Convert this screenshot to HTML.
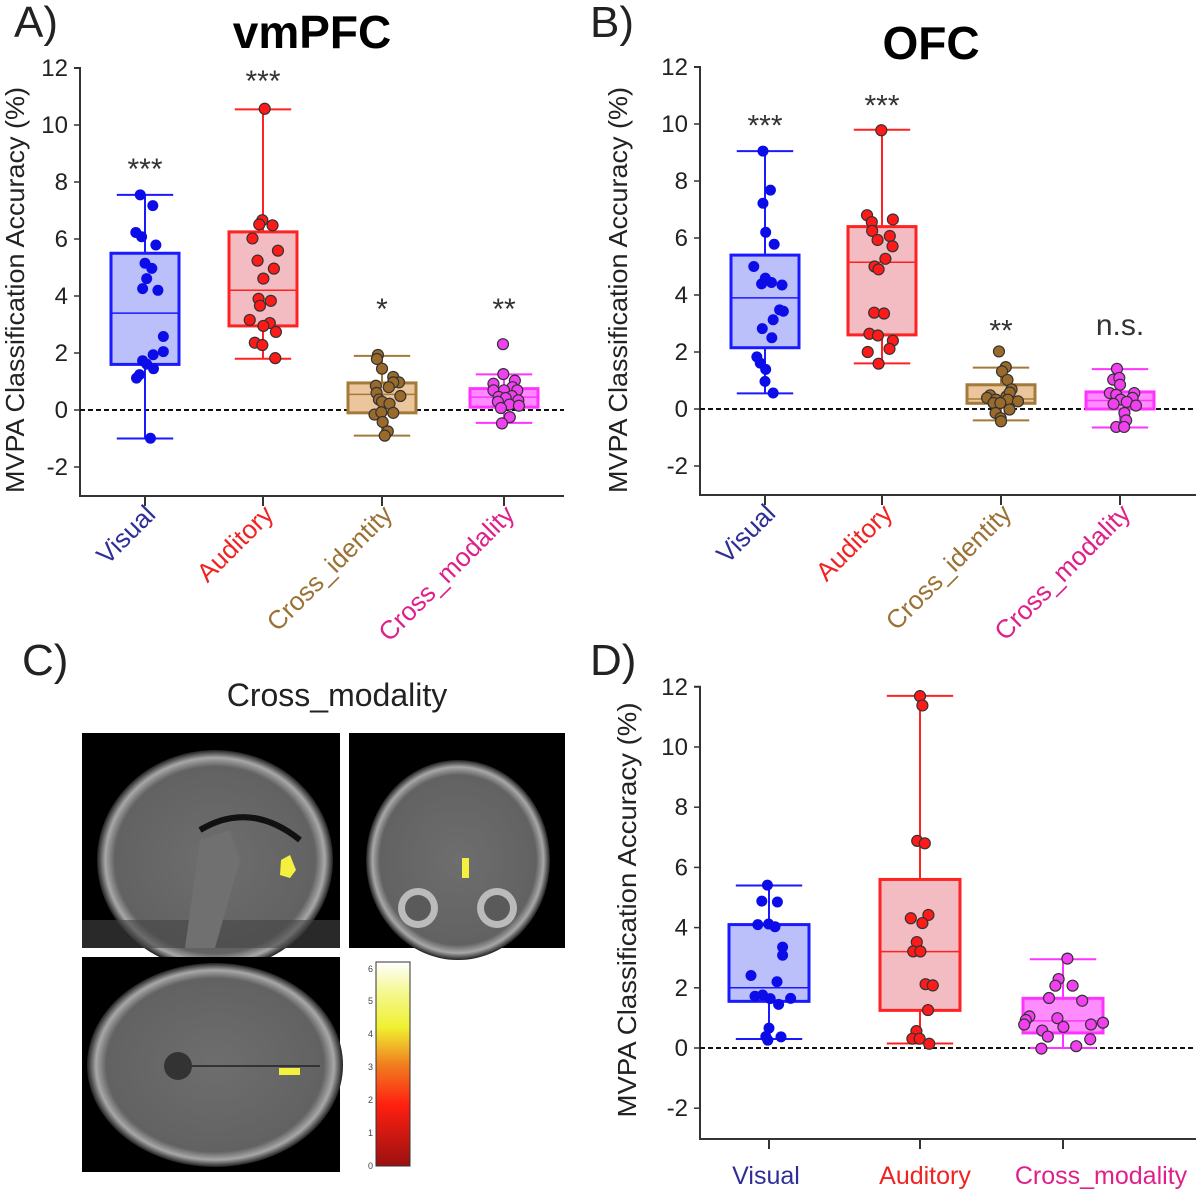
<!DOCTYPE html>
<html><head><meta charset="utf-8"><style>
html,body{margin:0;padding:0;background:#fff;}
svg{display:block;font-family:"Liberation Sans",Arial,sans-serif;}
</style></head><body>
<svg id="fig" width="1200" height="1190" viewBox="0 0 1200 1190" xmlns="http://www.w3.org/2000/svg">
<defs>
<linearGradient id="cbar" x1="0" y1="1" x2="0" y2="0">
<stop offset="0" stop-color="#9a1010"/><stop offset="0.3" stop-color="#ff2010"/><stop offset="0.5" stop-color="#f08020"/><stop offset="0.68" stop-color="#f0f030"/><stop offset="0.85" stop-color="#f4f890"/><stop offset="1" stop-color="#ffffff"/>
</linearGradient>
<radialGradient id="brainG" cx="0.5" cy="0.5" r="0.5"><stop offset="0" stop-color="#6e6e6e"/><stop offset="0.85" stop-color="#626262"/><stop offset="0.93" stop-color="#a8a8a8"/><stop offset="1" stop-color="#202020"/></radialGradient>
</defs>
<text x="14" y="37" font-size="44" fill="#222">A)</text>
<text x="312" y="48" font-size="46" font-weight="bold" text-anchor="middle" fill="#000">vmPFC</text>
<text x="590" y="37" font-size="44" fill="#222">B)</text>
<text x="931" y="59" font-size="46" font-weight="bold" text-anchor="middle" fill="#000">OFC</text>
<text x="22" y="675" font-size="44" fill="#222">C)</text>
<text x="337" y="706" font-size="32" text-anchor="middle" fill="#222">Cross_modality</text>
<text x="590" y="675" font-size="44" fill="#222">D)</text>

<g>
<rect x="82" y="733" width="258" height="215" fill="#000"/>
<ellipse cx="215" cy="860" rx="118" ry="110" fill="url(#brainG)"/>
<rect x="82" y="920" width="258" height="28" fill="#444" opacity="0.6"/>
<path d="M185 948 L200 840 L230 830 L240 860 L215 948 Z" fill="#707070"/>
<path d="M200 830 Q250 800 300 840" stroke="#111" stroke-width="6" fill="none"/>
<path d="M281 860 L290 855 L296 870 L290 878 L280 875 Z" fill="#f4f040"/>
<rect x="349" y="733" width="216" height="215" fill="#000"/>
<ellipse cx="458" cy="860" rx="92" ry="100" fill="url(#brainG)"/>
<circle cx="418" cy="908" r="20" fill="#bbb"/><circle cx="418" cy="908" r="13" fill="#5a5a5a"/>
<circle cx="497" cy="908" r="20" fill="#bbb"/><circle cx="497" cy="908" r="13" fill="#5a5a5a"/>
<rect x="462" y="858" width="7" height="20" fill="#f4f040"/>
<rect x="82" y="957" width="258" height="215" fill="#000"/>
<ellipse cx="215" cy="1065" rx="128" ry="102" fill="url(#brainG)"/>
<line x1="190" y1="1066" x2="320" y2="1066" stroke="#333" stroke-width="2"/>
<circle cx="178" cy="1066" r="14" fill="#333"/>
<rect x="279" y="1068" width="21" height="7" fill="#f4f040"/>
<rect x="376" y="962" width="34" height="204" fill="url(#cbar)" stroke="#333" stroke-width="1"/>
<g font-size="9" fill="#444" text-anchor="end">
<text x="373" y="1169">0</text><text x="373" y="1136">1</text><text x="373" y="1103">2</text><text x="373" y="1070">3</text><text x="373" y="1037">4</text><text x="373" y="1004">5</text><text x="373" y="972">6</text>
</g>
</g>
<g id="charts"></g>
</svg>
<script>
const catsABC = ["Visual","Auditory","Cross_identity","Cross_modality"];
const catsD = ["Visual","Auditory","Cross_modality"];
const yTicks = [-2,0,2,4,6,8,10,12];
const statsA = [[-1.0,1.6,3.4,5.5,7.55],[1.8,2.95,4.2,6.25,10.55],[-0.9,-0.1,0.55,0.95,1.9],[-0.45,0.1,0.45,0.75,1.25]];
const statsB = [[0.55,2.15,3.9,5.4,9.05],[1.6,2.6,5.15,6.4,9.8],[-0.4,0.2,0.35,0.85,1.45],[-0.65,0.0,0.3,0.6,1.4]];
const statsD = [[0.3,1.55,2.0,4.1,5.4],[0.15,1.25,3.2,5.6,11.7],[0.0,0.5,0.9,1.65,2.95]];
const sigA = ["***","***","*","**"];
const sigB = ["***","***","**","n.s."];
const sigAy = [8.1,11.2,3.2,3.2];
const sigBy = [9.6,10.3,2.4,2.6];
const ptsA = [
 [7.55,7.17,6.23,6.08,5.79,5.15,4.97,4.61,4.26,4.2,2.58,2.05,1.94,1.73,1.61,1.45,1.24,1.12,-0.99],
 [10.57,6.66,6.51,6.48,6.02,5.59,5.24,4.96,4.61,3.9,3.83,3.66,3.16,3.05,2.95,2.74,2.36,2.28,1.82],
 [1.93,1.79,1.45,1.16,0.97,0.97,0.85,0.8,0.6,0.49,0.37,0.29,0.22,-0.16,-0.08,-0.1,-0.42,-0.75,-0.9],
 [2.31,1.26,1.03,0.92,0.8,0.69,0.69,0.69,0.49,0.46,0.42,0.34,0.29,0.19,0.15,0.07,-0.25,-0.47]];
const jitA = [
 [-0.14,0.23,-0.27,-0.1,0.32,0,0.2,0.05,-0.07,0.38,0.54,0.54,0.24,-0.07,0.05,0.25,-0.16,-0.25,0.16],
 [0.05,-0.02,-0.11,0.28,-0.31,0.44,-0.16,0.32,0.01,-0.13,0.23,-0.09,-0.39,0.2,0.01,0.38,-0.24,-0.02,0.36],
 [-0.12,-0.15,0,0.33,0.5,0.33,-0.18,0.2,-0.16,0.54,-0.09,0,0.22,-0.22,-0.02,0.33,0.02,0.17,0.08],
 [-0.03,-0.02,0.32,-0.31,0.25,-0.31,0,0.39,0.23,-0.16,0.05,0.42,-0.18,0.16,0.44,-0.09,0.17,-0.06]];
const ptsB = [
 [9.05,7.68,7.22,6.2,5.78,5.0,4.59,4.39,4.44,4.35,3.48,3.43,3.13,2.82,2.5,1.83,1.61,1.39,0.97,0.56],
 [9.78,6.8,6.56,6.65,6.25,5.93,6.07,5.71,5.27,5.0,4.9,3.38,3.35,2.64,2.58,2.4,2.0,2.11,1.59],
 [2.02,1.47,1.32,1.02,0.69,0.48,0.44,0.39,0.58,0.33,0.33,0.27,0.21,0.21,-0.02,-0.14,-0.32,-0.43],
 [1.41,1.03,1.09,0.85,0.56,0.56,0.5,0.39,0.33,0.18,0.25,0.12,-0.14,-0.4,-0.63,-0.63]];
const jitB = [
 [-0.06,0.16,-0.06,0.02,0.27,-0.33,0.01,-0.1,0.19,0.5,0.43,0.54,0.24,-0.08,0.2,-0.24,-0.14,0.02,0,0.24],
 [-0.02,-0.44,-0.3,0.32,-0.29,-0.13,0.23,0.31,0.1,-0.22,-0.1,-0.23,0.06,-0.37,-0.12,0.32,-0.42,0.22,-0.1],
 [-0.06,0.14,0.03,0.19,0.31,-0.32,0.16,-0.41,0.26,-0.15,0.2,0.5,-0.22,-0.02,0.25,-0.16,-0.01,0],
 [-0.09,-0.2,-0.02,0,-0.3,0.42,-0.11,0.37,0.02,-0.19,0.2,0.47,0.13,0.18,-0.11,0.12]];
const ptsD = [
 [5.41,4.88,4.85,4.1,4.12,4.03,3.35,3.08,2.41,2.2,1.72,1.76,1.64,1.65,1.45,0.66,0.38,0.37,0.26],
 [11.69,11.38,6.88,6.8,4.31,4.42,4.15,3.52,3.21,3.21,2.12,2.08,1.26,0.56,0.31,0.31,0.14],
 [2.97,2.29,2.07,2.07,1.66,1.57,1.05,0.93,0.99,0.84,0.78,0.78,0.7,0.58,0.38,0.29,0.06,-0.02]];
const jitD = [
 [-0.04,-0.18,0.21,-0.28,-0.01,0.15,0.34,0.34,-0.45,0.2,-0.35,-0.16,0.03,0.54,0.24,0,-0.08,0.3,-0.03],
 [0,0.06,-0.07,0.12,-0.23,0.21,0.06,-0.08,-0.17,0.01,0.14,0.32,0.2,-0.09,-0.19,-0.01,0.23],
 [0.11,-0.11,-0.19,0.24,-0.35,0.48,-0.84,-0.93,-0.14,1.0,-0.97,0.7,0.01,-0.52,-0.38,0.68,0.33,-0.54]];

const styleMap = {
 Visual:{fill:"#bcc0fa",stroke:"#1a1aff",dot:"#0c0ce8",outline:"none",label:"#2e2e99"},
 Auditory:{fill:"#f2bcc2",stroke:"#ff2222",dot:"#ff1a1a",outline:"#333",label:"#f02222"},
 Cross_identity:{fill:"#ebc59c",stroke:"#a37a3a",dot:"#9a6a2a",outline:"#333",label:"#9b7235"},
 Cross_modality:{fill:"#ff8cff",stroke:"#ff33ff",dot:"#f040f0",outline:"#333",label:"#e0208a"}
};
const NS="http://www.w3.org/2000/svg";
const root=document.getElementById('charts');
function mk(tag,attrs,parent){const e=document.createElementNS(NS,tag);for(const k in attrs)e.setAttribute(k,attrs[k]);(parent||root).appendChild(e);return e;}

function panel(cfg){
 const g=mk('g',{});
 
 
 const y=v=>cfg.y0-(v)*cfg.unit;
 const x=i=>cfg.catX[i];
 const ax=mk('path',{d:`M${cfg.ax-6} ${y(12)} H${cfg.ax} V${cfg.bottom} H${cfg.right}`,stroke:'#333','stroke-width':2,fill:'none'},g);
 
 
 yTicks.forEach(t=>{
  mk('line',{x1:cfg.ax-6,x2:cfg.ax,y1:y(t),y2:y(t),stroke:'#333','stroke-width':1.5},g);
  const tl=mk('text',{x:cfg.ax-12,y:y(t)+8,'font-size':24,'text-anchor':'end',fill:'#222'},g);
  tl.textContent=t;
  
  
 });
 const yt=mk('text',{x:0,y:0,'font-size':26,'text-anchor':'middle',fill:'#222',textLength:cfg.titleLen,lengthAdjust:'spacingAndGlyphs',transform:`translate(${cfg.titleX},${cfg.titleY}) rotate(-90)`},g);
 yt.textContent='MVPA Classification Accuracy (%)';
 
 
 const zl=mk('line',{x1:cfg.ax,x2:cfg.right,y1:y(0),y2:y(0),stroke:'#111','stroke-width':2,'stroke-dasharray':'5,3'},g);
 
 
 cfg.cats.forEach((c,i)=>{
  const s=styleMap[c], st=cfg.stats[i], cx=x(i), hw=cfg.hw;
  mk('line',{x1:cx,x2:cx,y1:cfg.bottom,y2:cfg.bottom+10,stroke:'#333','stroke-width':2},g);
  const bg=mk('g',{},g);
  
  
  mk('line',{x1:cx,x2:cx,y1:y(st[0]),y2:y(st[4]),stroke:s.stroke,'stroke-width':2},bg);
  mk('line',{x1:cx-hw*0.83,x2:cx+hw*0.83,y1:y(st[0]),y2:y(st[0]),stroke:s.stroke,'stroke-width':2},bg);
  mk('line',{x1:cx-hw*0.83,x2:cx+hw*0.83,y1:y(st[4]),y2:y(st[4]),stroke:s.stroke,'stroke-width':2},bg);
  mk('rect',{x:cx-hw,y:y(st[3]),width:2*hw,height:y(st[1])-y(st[3]),fill:s.fill,stroke:s.stroke,'stroke-width':3},bg);
  mk('line',{x1:cx-hw,x2:cx+hw,y1:y(st[2]),y2:y(st[2]),stroke:s.stroke,'stroke-width':1.5},bg);
  const pts=cfg.pts[i], jit=cfg.jit[i];
  pts.forEach((v,j)=>{
   const p=mk('circle',{cx:cx+jit[j]*hw,cy:y(v),r:cfg.r,fill:s.dot,stroke:s.outline,'stroke-width':1.2},g);
   
   
  });
  let lab;
  if(cfg.rotLabels){
   lab=mk('text',{x:0,y:0,'font-size':26,'text-anchor':'end',fill:s.label,transform:`translate(${cx+12},${cfg.bottom+20}) rotate(-45)`},g);
  } else {
   lab=mk('text',{x:cx+cfg.labDx[i],y:cfg.bottom+45,'font-size':25,'text-anchor':'middle',fill:s.label},g);
  }
  lab.textContent=c;
  
  
  if(cfg.sig){
   const sg=mk('text',{x:cx,y:y(cfg.sigY[i]),'font-size':30,'text-anchor':'middle',fill:'#333'},g);
   sg.textContent=cfg.sig[i];
   
   
  }
 });
}
panel({name:'chart-vmpfc',cats:catsABC,stats:statsA,pts:ptsA,jit:jitA,ax:80,y0:410,unit:28.5,bottom:496,right:564,catX:[145,263,382,504],hw:34,r:5.5,rotLabels:true,sig:sigA,sigY:sigAy,titleX:24,titleY:290,titleLen:406});
panel({name:'chart-ofc',cats:catsABC,stats:statsB,pts:ptsB,jit:jitB,ax:700,y0:409,unit:28.5,bottom:495,right:1196,catX:[765,882,1001,1120],hw:34,r:5.5,rotLabels:true,sig:sigB,sigY:sigBy,titleX:627,titleY:290,titleLen:406});
panel({name:'chart-d',cats:catsD,stats:statsD,pts:ptsD,jit:jitD,ax:700,y0:1048,unit:30.1,bottom:1139,right:1196,catX:[769,920,1063],hw:40,r:5.5,rotLabels:false,sig:null,titleX:636,titleY:910,titleLen:415,labDx:[-3,5,38]});
</script>
</body></html>
